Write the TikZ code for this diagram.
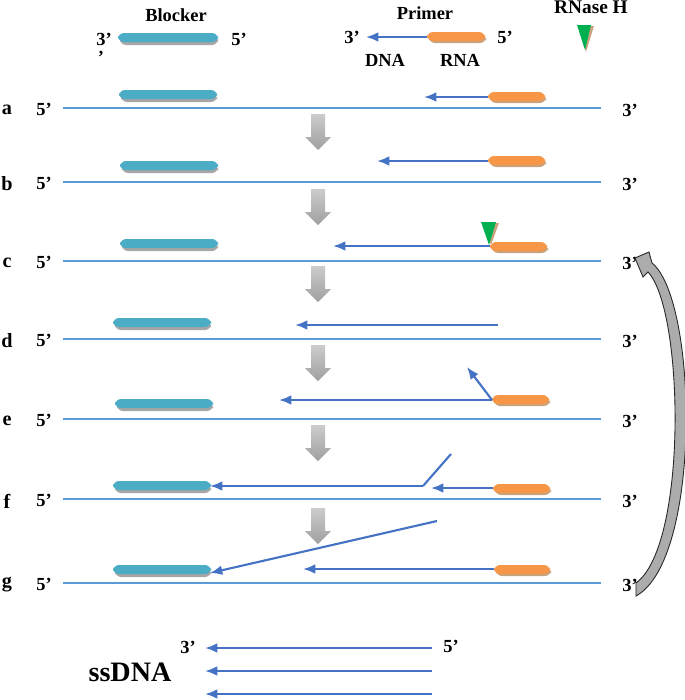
\documentclass[tikz,border=0pt]{standalone}
\usepackage{fontspec}
\setmainfont{Liberation Serif}
\usetikzlibrary{arrows.meta}
\definecolor{tmplblue}{HTML}{5B9BD5}
\definecolor{dnablue}{HTML}{4472C4}
\definecolor{blockteal}{HTML}{4BACC6}
\definecolor{rnaorange}{HTML}{F79646}
\definecolor{rnashadow}{HTML}{C9A27E}
\definecolor{enzgreen}{HTML}{00B050}

\begin{document}
\begin{tikzpicture}[x=0.02cm, y=-0.02cm,
    lab/.style={font=\bfseries\fontsize{10.5}{12}\selectfont, inner sep=0pt},
    template/.style={draw=tmplblue, line width=1.1pt},
    dna/.style={draw=dnablue, line width=1.2pt, -{Latex[length=7pt,width=5.5pt]}},
    dnaend/.style={draw=dnablue, line width=1.2pt},
    blocker/.style={fill=blockteal, rounded corners=3.5pt},
    blockshadow/.style={fill=gray!70, rounded corners=3.5pt},
    rna/.style={fill=rnaorange, rounded corners=3.5pt},
    rnash/.style={fill=rnashadow, rounded corners=3.5pt}]
  \useasboundingbox (0,0) rectangle (685,700);

  % legend on top
  \node[lab] (blockerlab) at (176,15) {Blocker};
  \fill[blockshadow] (120,36) rectangle (218,45);
  \fill[blocker] (118,33) rectangle (218,42);
  \node[lab] (blk3) at (104,39) {3’};
  \node[lab] (blktick) at (101,57) {’};
  \node[lab] (blk5) at (239,39) {5’};

  \node[lab] (primerlab) at (425,13) {Primer};
  \fill[rnash] (429,35) rectangle (486,43);
  \fill[rna] (427,32) rectangle (485,41);
  \coordinate (p0) at (427,37);
  \coordinate (p1) at (366,37);
  \draw[dna] (p0) -- (p1);
  \node[lab] (prim3) at (352,37) {3’};
  \node[lab] (prim5) at (505,37) {5’};
  \node[lab] (dnalab) at (385,60) {DNA};
  \node[lab] (rnalab) at (460,60) {RNA};

  \node[lab, font=\bfseries\fontsize{11}{12}\selectfont] (rnaselab) at (591,7) {RNase H};
  \fill[rnashadow] (580,26) -- (594,26) -- (586,52) -- cycle;
  \fill[enzgreen] (577,25) -- (591,25) -- (585,50) -- cycle;

  % template strands with blockers
  \foreach \r/\y/\bx/\by in {a/108/119/95, b/182/120/166, c/261/120/244,
                             d/339/113/323, e/419/115/404, f/499/113/486,
                             g/583/113/570}{
    \node[lab, font=\bfseries\fontsize{11.5}{12}\selectfont] (\r) at (7,\y+2) {\r};
    \node[lab] (\r5) at (44,\y+1) {5’};
    \node[lab] (\r3) at (630,\y+2) {3’};
    \coordinate (\r-L) at (63,\y);
    \coordinate (\r-R) at (601,\y);
    \draw[template] (\r-L) -- (\r-R);
    \fill[blockshadow] (\bx+2,\by-1) rectangle (\bx+98,\by+7);
    \fill[blocker] (\bx,\by-5) rectangle (\bx+98,\by+4);
  }

  % gray step arrows
  \foreach \t in {114,189,266,345,425,508}{
    \shade[top color=gray!40, bottom color=gray!75]
      (311,\t) -- (325,\t) -- (325,\t+23) -- (331,\t+23) -- (318,\t+36)
      -- (305,\t+23) -- (311,\t+23) -- cycle;
  }

  % row a
  \fill[rnash] (490,95) rectangle (546,103);
  \fill[rna] (488,92) rectangle (545,101);
  \coordinate (a0) at (488,97);
  \coordinate (a1) at (424,97);
  \draw[dna] (a0) -- (a1);

  % row b
  \fill[rnash] (490,159) rectangle (546,167);
  \fill[rna] (488,156) rectangle (545,165);
  \coordinate (b0) at (488,161);
  \coordinate (b1) at (377,161);
  \draw[dna] (b0) -- (b1);

  % row c
  \fill[rnash] (492,245) rectangle (548,253);
  \fill[rna] (490,242) rectangle (547,251);
  \coordinate (c0) at (490,246);
  \coordinate (c1) at (333,246);
  \draw[dna] (c0) -- (c1);
  \fill[rnashadow] (483,223) -- (499,223) -- (491,245) -- cycle;
  \fill[enzgreen] (481,222) -- (496,222) -- (489,245) -- cycle;

  % row d
  \coordinate (d0) at (498,325);
  \coordinate (d1) at (295,325);
  \draw[dna] (d0) -- (d1);

  % row e
  \fill[rnash] (494,398) rectangle (550,406);
  \fill[rna] (492,395) rectangle (549,404);
  \coordinate (e0) at (492,400);
  \coordinate (e1) at (279,400);
  \coordinate (e2) at (467,367);
  \draw[dna] (e0) -- (e1);
  \draw[dna] (e0) -- (e2);

  % row f
  \fill[rnash] (495,487) rectangle (551,495);
  \fill[rna] (493,484) rectangle (550,493);
  \coordinate (f0) at (493,488);
  \coordinate (f1) at (431,488);
  \coordinate (f2) at (423,486);
  \coordinate (f3) at (451,454);
  \coordinate (f4) at (210,486);
  \draw[dna] (f0) -- (f1);
  \draw[dnaend] (f3) -- (f2);
  \draw[dna] (f2) -- (f4);

  % row g
  \fill[rnash] (496,568) rectangle (551,576);
  \fill[rna] (494,565) rectangle (550,574);
  \coordinate (g0) at (494,569);
  \coordinate (g1) at (303,569);
  \coordinate (g2) at (437,521);
  \coordinate (g3) at (210,573);
  \draw[dna] (g0) -- (g1);
  \draw[dna] (g2) -- (g3);

  % recycling arrow
  \filldraw[fill=gray!65, draw=gray!30!black, line width=0.5pt]
    (636,596) .. controls (702,560) and (698,300) .. (652,263)
    -- (649,252) -- (635,258) -- (643,277) -- (648,272)
    .. controls (684,310) and (688,545) .. (636,583) -- cycle;

  % ssDNA products
  \coordinate (s1a) at (432,648);
  \coordinate (s1b) at (205,648);
  \coordinate (s2a) at (432,671);
  \coordinate (s2b) at (205,671);
  \coordinate (s3a) at (432,694);
  \coordinate (s3b) at (205,694);
  \draw[dna] (s1a) -- (s1b);
  \draw[dna] (s2a) -- (s2b);
  \draw[dna] (s3a) -- (s3b);
  \node[lab] (ss3) at (188,647) {3’};
  \node[lab] (ss5) at (451,646) {5’};
  \node[lab, font=\bfseries\fontsize{16}{18}\selectfont] (sslab) at (130,672) {ssDNA};
\end{tikzpicture}
\end{document}
